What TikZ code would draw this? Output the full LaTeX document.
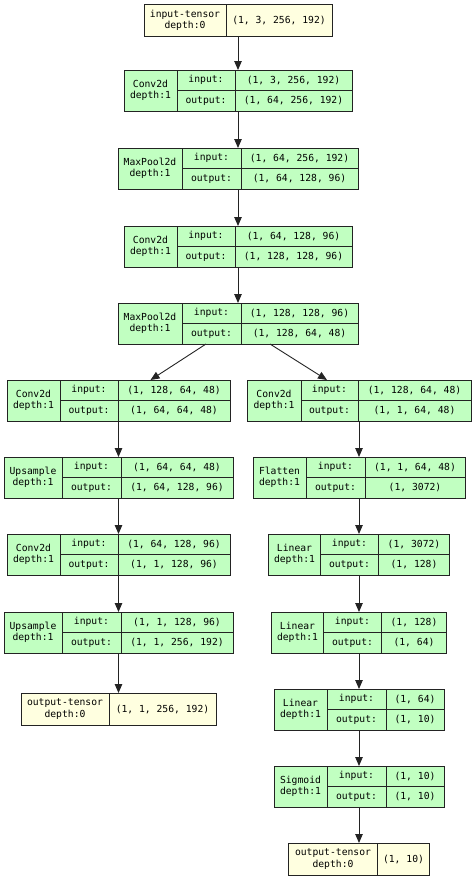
\documentclass[tikz,border=0pt]{standalone}
\usepackage{fontspec}
\setmonofont{DejaVu Sans Mono}
\usetikzlibrary{arrows.meta}
\definecolor{LayerGreen}{RGB}{193,255,193}
\definecolor{TensorYellow}{RGB}{255,255,224}
\definecolor{EdgeGray}{RGB}{35,35,35}

% layer box: name, x centre, y top, widths of the three columns, title, input, output
\newcommand{\layerbox}[9]{%
  \node[layerBox,minimum width=#4+#5+#6,minimum height=41] (#1) at (#2,#3+20.5) {};
  \node[layerCell,anchor=north west,minimum width=#4,minimum height=41] (#1t) at (#1.north west) {#7};
  \node[layerCell,anchor=north west,minimum width=#5] (#1il) at (#1t.north east) {input:};
  \node[layerCell,anchor=north west,minimum width=#6] (#1iv) at (#1il.north east) {#8};
  \node[layerCell,anchor=north west,minimum width=#5] (#1ol) at (#1il.south west) {output:};
  \node[layerCell,anchor=north west,minimum width=#6] (#1ov) at (#1ol.north east) {#9};}
% tensor box: name, x centre, y top, widths of the two columns, title, shape
\newcommand{\tensorbox}[7]{%
  \node[tensorBox,minimum width=#4+#5,minimum height=32] (#1) at (#2,#3+16) {};
  \node[tensorCell,anchor=north west,minimum width=#4] (#1t) at (#1.north west) {#6};
  \node[tensorCell,anchor=north west,minimum width=#5] (#1v) at (#1t.north east) {#7};}

\begin{document}
\begin{tikzpicture}[
        x=1pt,y=-1pt,
        every node/.style={font=\ttfamily\fontsize{9.7}{11.3}\selectfont,inner sep=0pt,outer sep=0pt},
        layerBox/.style={fill=LayerGreen,draw=EdgeGray,line width=0.9pt},
        tensorBox/.style={fill=TensorYellow,draw=EdgeGray,line width=0.9pt},
        layerCell/.style={draw=EdgeGray,line width=0.9pt,align=center,minimum height=20.5},
        tensorCell/.style={draw=EdgeGray,line width=0.9pt,align=center,minimum height=32},
        flowEdge/.style={draw=EdgeGray,line width=0.9pt,-{Triangle[length=9pt,width=7.5pt]}}]
        \useasboundingbox (0,0) rectangle (474,879);
        \tensorbox{in0}{238}{4}{82}{106}{input-tensor\\depth:0}{(1, 3, 256, 192)}
        \layerbox{c1}{238}{70}{53}{58}{117}{Conv2d\\depth:1}{(1, 3, 256, 192)}{(1, 64, 256, 192)}
        \layerbox{p1}{238}{148}{64}{59}{117}{MaxPool2d\\depth:1}{(1, 64, 256, 192)}{(1, 64, 128, 96)}
        \layerbox{c2}{238}{226}{53}{58}{117}{Conv2d\\depth:1}{(1, 64, 128, 96)}{(1, 128, 128, 96)}
        \layerbox{p2}{238}{303}{64}{59}{117}{MaxPool2d\\depth:1}{(1, 128, 128, 96)}{(1, 128, 64, 48)}
        % decoder branch
        \layerbox{l1}{118.5}{380}{53}{58}{112}{Conv2d\\depth:1}{(1, 128, 64, 48)}{(1, 64, 64, 48)}
        \layerbox{l2}{118.5}{457}{58}{59}{112}{Upsample\\depth:1}{(1, 64, 64, 48)}{(1, 64, 128, 96)}
        \layerbox{l3}{118.5}{534}{53}{58}{112}{Conv2d\\depth:1}{(1, 64, 128, 96)}{(1, 1, 128, 96)}
        \layerbox{l4}{118.5}{612}{58}{59}{112}{Upsample\\depth:1}{(1, 1, 128, 96)}{(1, 1, 256, 192)}
        \tensorbox{lo}{118.5}{693}{88}{107}{output-tensor\\depth:0}{(1, 1, 256, 192)}
        % classifier branch
        \layerbox{r1}{359}{380}{54}{57}{113}{Conv2d\\depth:1}{(1, 128, 64, 48)}{(1, 1, 64, 48)}
        \layerbox{r2}{359}{457}{53}{59}{100}{Flatten\\depth:1}{(1, 1, 64, 48)}{(1, 3072)}
        \layerbox{r3}{359}{534}{52}{58}{71}{Linear\\depth:1}{(1, 3072)}{(1, 128)}
        \layerbox{r4}{359}{612}{52}{58}{65}{Linear\\depth:1}{(1, 128)}{(1, 64)}
        \layerbox{r5}{359}{689}{53}{59}{58}{Linear\\depth:1}{(1, 64)}{(1, 10)}
        \layerbox{r6}{359}{766}{53}{59}{58}{Sigmoid\\depth:1}{(1, 10)}{(1, 10)}
        \tensorbox{ro}{359}{843}{89}{52}{output-tensor\\depth:0}{(1, 10)}
        \draw[flowEdge] (in0) -- (c1);
        \draw[flowEdge] (c1) -- (p1);
        \draw[flowEdge] (p1) -- (c2);
        \draw[flowEdge] (c2) -- (p2);
        \draw[flowEdge] ([xshift=-32]p2.south) -- ([xshift=32]l1.north);
        \draw[flowEdge] ([xshift=32]p2.south) -- ([xshift=-32]r1.north);
        \draw[flowEdge] (l1) -- (l2);
        \draw[flowEdge] (l2) -- (l3);
        \draw[flowEdge] (l3) -- (l4);
        \draw[flowEdge] (l4) -- (lo);
        \draw[flowEdge] (r1) -- (r2);
        \draw[flowEdge] (r2) -- (r3);
        \draw[flowEdge] (r3) -- (r4);
        \draw[flowEdge] (r4) -- (r5);
        \draw[flowEdge] (r5) -- (r6);
        \draw[flowEdge] (r6) -- (ro);
      \end{tikzpicture}
\end{document}
